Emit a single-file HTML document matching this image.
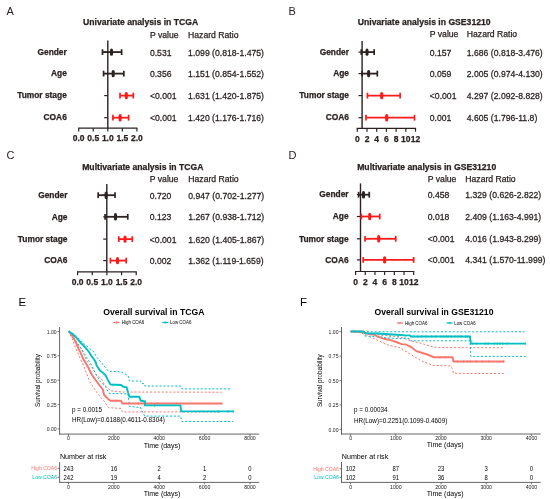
<!DOCTYPE html>
<html><head><meta charset="utf-8"><style>
html,body{margin:0;padding:0;background:#fff;}
svg{display:block;will-change:transform;}
text{font-family:"Liberation Sans",sans-serif;}
text.t{stroke:currentColor;}
</style></head><body>
<svg width="550" height="499" viewBox="0 0 550 499">
<rect width="550" height="499" fill="#fff"/>
<text x="6.60" y="14.50" font-size="11" font-weight="normal" text-anchor="start" fill="#2b2222" >A</text>
<text x="83.10" y="25.10" font-size="8.65" font-weight="bold" text-anchor="start" fill="#2b2222" stroke="#2b2222" stroke-width="0.25">Univariate analysis in TCGA</text>
<text x="149.90" y="37.60" font-size="8.65" font-weight="normal" text-anchor="start" fill="#2b2222" stroke="#2b2222" stroke-width="0.25">P value</text>
<text x="188.10" y="37.60" font-size="8.65" font-weight="normal" text-anchor="start" fill="#2b2222" stroke="#2b2222" stroke-width="0.25">Hazard Ratio</text>
<line x1="107.80" y1="40.50" x2="107.80" y2="128.20" stroke="#2b2222" stroke-width="1.4" />
<line x1="78.10" y1="128.20" x2="137.50" y2="128.20" stroke="#2b2222" stroke-width="1.2" />
<line x1="78.70" y1="128.20" x2="78.70" y2="131.60" stroke="#2b2222" stroke-width="1.2" />
<text x="78.70" y="141.40" font-size="8.5" font-weight="bold" text-anchor="middle" fill="#2b2222" stroke="#2b2222" stroke-width="0.25">0.0</text>
<line x1="93.25" y1="128.20" x2="93.25" y2="131.60" stroke="#2b2222" stroke-width="1.2" />
<text x="93.25" y="141.40" font-size="8.5" font-weight="bold" text-anchor="middle" fill="#2b2222" stroke="#2b2222" stroke-width="0.25">0.5</text>
<line x1="107.80" y1="128.20" x2="107.80" y2="131.60" stroke="#2b2222" stroke-width="1.2" />
<text x="107.80" y="141.40" font-size="8.5" font-weight="bold" text-anchor="middle" fill="#2b2222" stroke="#2b2222" stroke-width="0.25">1.0</text>
<line x1="122.35" y1="128.20" x2="122.35" y2="131.60" stroke="#2b2222" stroke-width="1.2" />
<text x="122.35" y="141.40" font-size="8.5" font-weight="bold" text-anchor="middle" fill="#2b2222" stroke="#2b2222" stroke-width="0.25">1.5</text>
<line x1="136.90" y1="128.20" x2="136.90" y2="131.60" stroke="#2b2222" stroke-width="1.2" />
<text x="136.90" y="141.40" font-size="8.5" font-weight="bold" text-anchor="middle" fill="#2b2222" stroke="#2b2222" stroke-width="0.25">2.0</text>
<line x1="104.20" y1="52.10" x2="107.80" y2="52.10" stroke="#2b2222" stroke-width="1.2" />
<line x1="102.50" y1="52.10" x2="121.62" y2="52.10" stroke="#2b2222" stroke-width="1.8" />
<line x1="102.50" y1="49.20" x2="102.50" y2="55.00" stroke="#2b2222" stroke-width="1.7" />
<line x1="121.62" y1="49.20" x2="121.62" y2="55.00" stroke="#2b2222" stroke-width="1.7" />
<rect x="110.00" y="48.40" width="3.0" height="7.4" rx="1.5" fill="#2b2222"/>
<text x="66.80" y="54.80" font-size="8.4" font-weight="bold" text-anchor="end" fill="#2b2222" stroke="#2b2222" stroke-width="0.25">Gender</text>
<text x="0" y="0" transform="translate(149.90,55.60) scale(1.0,1.05)" font-size="8.65" font-weight="normal" text-anchor="start" fill="#2b2222" stroke="#2b2222" stroke-width="0.25">0.531</text>
<text x="0" y="0" transform="translate(188.10,55.60) scale(1.0,1.05)" font-size="8.65" font-weight="normal" text-anchor="start" fill="#2b2222" stroke="#2b2222" stroke-width="0.25">1.099 (0.818-1.475)</text>
<line x1="104.20" y1="73.60" x2="107.80" y2="73.60" stroke="#2b2222" stroke-width="1.2" />
<line x1="103.55" y1="73.60" x2="123.86" y2="73.60" stroke="#2b2222" stroke-width="1.8" />
<line x1="103.55" y1="70.70" x2="103.55" y2="76.50" stroke="#2b2222" stroke-width="1.7" />
<line x1="123.86" y1="70.70" x2="123.86" y2="76.50" stroke="#2b2222" stroke-width="1.7" />
<rect x="111.70" y="69.90" width="3.0" height="7.4" rx="1.5" fill="#2b2222"/>
<text x="66.80" y="76.30" font-size="8.4" font-weight="bold" text-anchor="end" fill="#2b2222" stroke="#2b2222" stroke-width="0.25">Age</text>
<text x="0" y="0" transform="translate(149.90,77.10) scale(1.0,1.05)" font-size="8.65" font-weight="normal" text-anchor="start" fill="#2b2222" stroke="#2b2222" stroke-width="0.25">0.356</text>
<text x="0" y="0" transform="translate(188.10,77.10) scale(1.0,1.05)" font-size="8.65" font-weight="normal" text-anchor="start" fill="#2b2222" stroke="#2b2222" stroke-width="0.25">1.151 (0.854-1.552)</text>
<line x1="104.20" y1="95.60" x2="107.80" y2="95.60" stroke="#2b2222" stroke-width="1.2" />
<line x1="120.02" y1="95.60" x2="133.26" y2="95.60" stroke="#ff1a1a" stroke-width="1.8" />
<line x1="120.02" y1="92.70" x2="120.02" y2="98.50" stroke="#ff1a1a" stroke-width="1.7" />
<line x1="133.26" y1="92.70" x2="133.26" y2="98.50" stroke="#ff1a1a" stroke-width="1.7" />
<rect x="124.80" y="91.90" width="3.0" height="7.4" rx="1.5" fill="#ff1a1a"/>
<text x="66.80" y="98.30" font-size="8.4" font-weight="bold" text-anchor="end" fill="#2b2222" stroke="#2b2222" stroke-width="0.25">Tumor stage</text>
<text x="0" y="0" transform="translate(149.90,99.10) scale(1.0,1.05)" font-size="8.65" font-weight="normal" text-anchor="start" fill="#2b2222" stroke="#2b2222" stroke-width="0.25">&lt;0.001</text>
<text x="0" y="0" transform="translate(188.10,99.10) scale(1.0,1.05)" font-size="8.65" font-weight="normal" text-anchor="start" fill="#2b2222" stroke="#2b2222" stroke-width="0.25">1.631 (1.420-1.875)</text>
<line x1="104.20" y1="117.70" x2="107.80" y2="117.70" stroke="#2b2222" stroke-width="1.2" />
<line x1="112.92" y1="117.70" x2="128.64" y2="117.70" stroke="#ff1a1a" stroke-width="1.8" />
<line x1="112.92" y1="114.80" x2="112.92" y2="120.60" stroke="#ff1a1a" stroke-width="1.7" />
<line x1="128.64" y1="114.80" x2="128.64" y2="120.60" stroke="#ff1a1a" stroke-width="1.7" />
<rect x="118.60" y="114.00" width="3.0" height="7.4" rx="1.5" fill="#ff1a1a"/>
<text x="66.80" y="120.40" font-size="8.4" font-weight="bold" text-anchor="end" fill="#2b2222" stroke="#2b2222" stroke-width="0.25">COA6</text>
<text x="0" y="0" transform="translate(149.90,121.20) scale(1.0,1.05)" font-size="8.65" font-weight="normal" text-anchor="start" fill="#2b2222" stroke="#2b2222" stroke-width="0.25">&lt;0.001</text>
<text x="0" y="0" transform="translate(188.10,121.20) scale(1.0,1.05)" font-size="8.65" font-weight="normal" text-anchor="start" fill="#2b2222" stroke="#2b2222" stroke-width="0.25">1.420 (1.176-1.716)</text>
<text x="288.40" y="14.50" font-size="11" font-weight="normal" text-anchor="start" fill="#2b2222" >B</text>
<text x="357.80" y="24.90" font-size="8.65" font-weight="bold" text-anchor="start" fill="#2b2222" stroke="#2b2222" stroke-width="0.25">Univariate analysis in GSE31210</text>
<text x="429.80" y="37.40" font-size="8.65" font-weight="normal" text-anchor="start" fill="#2b2222" stroke="#2b2222" stroke-width="0.25">P value</text>
<text x="466.80" y="37.40" font-size="8.65" font-weight="normal" text-anchor="start" fill="#2b2222" stroke="#2b2222" stroke-width="0.25">Hazard Ratio</text>
<line x1="362.10" y1="40.90" x2="362.10" y2="128.30" stroke="#2b2222" stroke-width="1.4" />
<line x1="356.70" y1="128.30" x2="416.10" y2="128.30" stroke="#2b2222" stroke-width="1.2" />
<line x1="357.30" y1="128.30" x2="357.30" y2="131.70" stroke="#2b2222" stroke-width="1.2" />
<text x="357.30" y="141.50" font-size="8.5" font-weight="bold" text-anchor="middle" fill="#2b2222" stroke="#2b2222" stroke-width="0.25">0</text>
<line x1="367.00" y1="128.30" x2="367.00" y2="131.70" stroke="#2b2222" stroke-width="1.2" />
<text x="367.00" y="141.50" font-size="8.5" font-weight="bold" text-anchor="middle" fill="#2b2222" stroke="#2b2222" stroke-width="0.25">2</text>
<line x1="376.70" y1="128.30" x2="376.70" y2="131.70" stroke="#2b2222" stroke-width="1.2" />
<text x="376.70" y="141.50" font-size="8.5" font-weight="bold" text-anchor="middle" fill="#2b2222" stroke="#2b2222" stroke-width="0.25">4</text>
<line x1="386.40" y1="128.30" x2="386.40" y2="131.70" stroke="#2b2222" stroke-width="1.2" />
<text x="386.40" y="141.50" font-size="8.5" font-weight="bold" text-anchor="middle" fill="#2b2222" stroke="#2b2222" stroke-width="0.25">6</text>
<line x1="396.10" y1="128.30" x2="396.10" y2="131.70" stroke="#2b2222" stroke-width="1.2" />
<text x="396.10" y="141.50" font-size="8.5" font-weight="bold" text-anchor="middle" fill="#2b2222" stroke="#2b2222" stroke-width="0.25">8</text>
<line x1="405.80" y1="128.30" x2="405.80" y2="131.70" stroke="#2b2222" stroke-width="1.2" />
<text x="405.80" y="141.50" font-size="8.5" font-weight="bold" text-anchor="middle" fill="#2b2222" stroke="#2b2222" stroke-width="0.25">10</text>
<line x1="415.50" y1="128.30" x2="415.50" y2="131.70" stroke="#2b2222" stroke-width="1.2" />
<text x="415.50" y="141.50" font-size="8.5" font-weight="bold" text-anchor="middle" fill="#2b2222" stroke="#2b2222" stroke-width="0.25">12</text>
<line x1="358.50" y1="52.10" x2="362.10" y2="52.10" stroke="#2b2222" stroke-width="1.2" />
<line x1="361.27" y1="52.10" x2="374.16" y2="52.10" stroke="#2b2222" stroke-width="1.8" />
<line x1="361.27" y1="49.20" x2="361.27" y2="55.00" stroke="#2b2222" stroke-width="1.7" />
<line x1="374.16" y1="49.20" x2="374.16" y2="55.00" stroke="#2b2222" stroke-width="1.7" />
<rect x="365.50" y="48.40" width="3.0" height="7.4" rx="1.5" fill="#2b2222"/>
<text x="349.00" y="54.80" font-size="8.4" font-weight="bold" text-anchor="end" fill="#2b2222" stroke="#2b2222" stroke-width="0.25">Gender</text>
<text x="0" y="0" transform="translate(429.80,55.60) scale(1.0,1.05)" font-size="8.65" font-weight="normal" text-anchor="start" fill="#2b2222" stroke="#2b2222" stroke-width="0.25">0.157</text>
<text x="0" y="0" transform="translate(466.80,55.60) scale(1.0,1.05)" font-size="8.65" font-weight="normal" text-anchor="start" fill="#2b2222" stroke="#2b2222" stroke-width="0.25">1.686 (0.818-3.476)</text>
<line x1="358.50" y1="73.60" x2="362.10" y2="73.60" stroke="#2b2222" stroke-width="1.2" />
<line x1="362.02" y1="73.60" x2="377.33" y2="73.60" stroke="#2b2222" stroke-width="1.8" />
<line x1="362.02" y1="70.70" x2="362.02" y2="76.50" stroke="#2b2222" stroke-width="1.7" />
<line x1="377.33" y1="70.70" x2="377.33" y2="76.50" stroke="#2b2222" stroke-width="1.7" />
<rect x="367.10" y="69.90" width="3.0" height="7.4" rx="1.5" fill="#2b2222"/>
<text x="349.00" y="76.30" font-size="8.4" font-weight="bold" text-anchor="end" fill="#2b2222" stroke="#2b2222" stroke-width="0.25">Age</text>
<text x="0" y="0" transform="translate(429.80,77.10) scale(1.0,1.05)" font-size="8.65" font-weight="normal" text-anchor="start" fill="#2b2222" stroke="#2b2222" stroke-width="0.25">0.059</text>
<text x="0" y="0" transform="translate(466.80,77.10) scale(1.0,1.05)" font-size="8.65" font-weight="normal" text-anchor="start" fill="#2b2222" stroke="#2b2222" stroke-width="0.25">2.005 (0.974-4.130)</text>
<line x1="358.50" y1="95.60" x2="362.10" y2="95.60" stroke="#2b2222" stroke-width="1.2" />
<line x1="367.45" y1="95.60" x2="400.12" y2="95.60" stroke="#ff1a1a" stroke-width="1.8" />
<line x1="367.45" y1="92.70" x2="367.45" y2="98.50" stroke="#ff1a1a" stroke-width="1.7" />
<line x1="400.12" y1="92.70" x2="400.12" y2="98.50" stroke="#ff1a1a" stroke-width="1.7" />
<rect x="380.20" y="91.90" width="3.0" height="7.4" rx="1.5" fill="#ff1a1a"/>
<text x="349.00" y="98.30" font-size="8.4" font-weight="bold" text-anchor="end" fill="#2b2222" stroke="#2b2222" stroke-width="0.25">Tumor stage</text>
<text x="0" y="0" transform="translate(429.80,99.10) scale(1.0,1.05)" font-size="8.65" font-weight="normal" text-anchor="start" fill="#2b2222" stroke="#2b2222" stroke-width="0.25">&lt;0.001</text>
<text x="0" y="0" transform="translate(466.80,99.10) scale(1.0,1.05)" font-size="8.65" font-weight="normal" text-anchor="start" fill="#2b2222" stroke="#2b2222" stroke-width="0.25">4.297 (2.092-8.828)</text>
<line x1="358.50" y1="117.70" x2="362.10" y2="117.70" stroke="#2b2222" stroke-width="1.2" />
<line x1="366.01" y1="117.70" x2="414.53" y2="117.70" stroke="#ff1a1a" stroke-width="1.8" />
<line x1="366.01" y1="114.80" x2="366.01" y2="120.60" stroke="#ff1a1a" stroke-width="1.7" />
<line x1="414.53" y1="114.80" x2="414.53" y2="120.60" stroke="#ff1a1a" stroke-width="1.7" />
<rect x="385.20" y="114.00" width="3.0" height="7.4" rx="1.5" fill="#ff1a1a"/>
<text x="349.00" y="120.40" font-size="8.4" font-weight="bold" text-anchor="end" fill="#2b2222" stroke="#2b2222" stroke-width="0.25">COA6</text>
<text x="0" y="0" transform="translate(429.80,121.20) scale(1.0,1.05)" font-size="8.65" font-weight="normal" text-anchor="start" fill="#2b2222" stroke="#2b2222" stroke-width="0.25">0.001</text>
<text x="0" y="0" transform="translate(466.80,121.20) scale(1.0,1.05)" font-size="8.65" font-weight="normal" text-anchor="start" fill="#2b2222" stroke="#2b2222" stroke-width="0.25">4.605 (1.796-11.8)</text>
<text x="6.60" y="159.10" font-size="11" font-weight="normal" text-anchor="start" fill="#2b2222" >C</text>
<text x="82.20" y="169.80" font-size="8.65" font-weight="bold" text-anchor="start" fill="#2b2222" stroke="#2b2222" stroke-width="0.25">Multivariate analysis in TCGA</text>
<text x="149.80" y="182.00" font-size="8.65" font-weight="normal" text-anchor="start" fill="#2b2222" stroke="#2b2222" stroke-width="0.25">P value</text>
<text x="188.30" y="182.00" font-size="8.65" font-weight="normal" text-anchor="start" fill="#2b2222" stroke="#2b2222" stroke-width="0.25">Hazard Ratio</text>
<line x1="106.80" y1="184.10" x2="106.80" y2="271.80" stroke="#2b2222" stroke-width="1.4" />
<line x1="77.00" y1="271.80" x2="136.80" y2="271.80" stroke="#2b2222" stroke-width="1.2" />
<line x1="77.60" y1="271.80" x2="77.60" y2="275.20" stroke="#2b2222" stroke-width="1.2" />
<text x="77.60" y="285.00" font-size="8.5" font-weight="bold" text-anchor="middle" fill="#2b2222" stroke="#2b2222" stroke-width="0.25">0.0</text>
<line x1="92.25" y1="271.80" x2="92.25" y2="275.20" stroke="#2b2222" stroke-width="1.2" />
<text x="92.25" y="285.00" font-size="8.5" font-weight="bold" text-anchor="middle" fill="#2b2222" stroke="#2b2222" stroke-width="0.25">0.5</text>
<line x1="106.90" y1="271.80" x2="106.90" y2="275.20" stroke="#2b2222" stroke-width="1.2" />
<text x="106.90" y="285.00" font-size="8.5" font-weight="bold" text-anchor="middle" fill="#2b2222" stroke="#2b2222" stroke-width="0.25">1.0</text>
<line x1="121.55" y1="271.80" x2="121.55" y2="275.20" stroke="#2b2222" stroke-width="1.2" />
<text x="121.55" y="285.00" font-size="8.5" font-weight="bold" text-anchor="middle" fill="#2b2222" stroke="#2b2222" stroke-width="0.25">1.5</text>
<line x1="136.20" y1="271.80" x2="136.20" y2="275.20" stroke="#2b2222" stroke-width="1.2" />
<text x="136.20" y="285.00" font-size="8.5" font-weight="bold" text-anchor="middle" fill="#2b2222" stroke="#2b2222" stroke-width="0.25">2.0</text>
<line x1="103.20" y1="195.20" x2="106.80" y2="195.20" stroke="#2b2222" stroke-width="1.2" />
<line x1="98.17" y1="195.20" x2="115.02" y2="195.20" stroke="#2b2222" stroke-width="1.8" />
<line x1="98.17" y1="192.30" x2="98.17" y2="198.10" stroke="#2b2222" stroke-width="1.7" />
<line x1="115.02" y1="192.30" x2="115.02" y2="198.10" stroke="#2b2222" stroke-width="1.7" />
<rect x="104.60" y="191.50" width="3.0" height="7.4" rx="1.5" fill="#2b2222"/>
<text x="67.50" y="197.90" font-size="8.4" font-weight="bold" text-anchor="end" fill="#2b2222" stroke="#2b2222" stroke-width="0.25">Gender</text>
<text x="0" y="0" transform="translate(149.80,198.70) scale(1.0,1.05)" font-size="8.65" font-weight="normal" text-anchor="start" fill="#2b2222" stroke="#2b2222" stroke-width="0.25">0.720</text>
<text x="0" y="0" transform="translate(188.30,198.70) scale(1.0,1.05)" font-size="8.65" font-weight="normal" text-anchor="start" fill="#2b2222" stroke="#2b2222" stroke-width="0.25">0.947 (0.702-1.277)</text>
<line x1="103.20" y1="216.80" x2="106.80" y2="216.80" stroke="#2b2222" stroke-width="1.2" />
<line x1="105.08" y1="216.80" x2="127.76" y2="216.80" stroke="#2b2222" stroke-width="1.8" />
<line x1="105.08" y1="213.90" x2="105.08" y2="219.70" stroke="#2b2222" stroke-width="1.7" />
<line x1="127.76" y1="213.90" x2="127.76" y2="219.70" stroke="#2b2222" stroke-width="1.7" />
<rect x="114.00" y="213.10" width="3.0" height="7.4" rx="1.5" fill="#2b2222"/>
<text x="67.50" y="219.50" font-size="8.4" font-weight="bold" text-anchor="end" fill="#2b2222" stroke="#2b2222" stroke-width="0.25">Age</text>
<text x="0" y="0" transform="translate(149.80,220.30) scale(1.0,1.05)" font-size="8.65" font-weight="normal" text-anchor="start" fill="#2b2222" stroke="#2b2222" stroke-width="0.25">0.123</text>
<text x="0" y="0" transform="translate(188.30,220.30) scale(1.0,1.05)" font-size="8.65" font-weight="normal" text-anchor="start" fill="#2b2222" stroke="#2b2222" stroke-width="0.25">1.267 (0.938-1.712)</text>
<line x1="103.20" y1="239.10" x2="106.80" y2="239.10" stroke="#2b2222" stroke-width="1.2" />
<line x1="118.77" y1="239.10" x2="132.30" y2="239.10" stroke="#ff1a1a" stroke-width="1.8" />
<line x1="118.77" y1="236.20" x2="118.77" y2="242.00" stroke="#ff1a1a" stroke-width="1.7" />
<line x1="132.30" y1="236.20" x2="132.30" y2="242.00" stroke="#ff1a1a" stroke-width="1.7" />
<rect x="123.50" y="235.40" width="3.0" height="7.4" rx="1.5" fill="#ff1a1a"/>
<text x="67.50" y="241.80" font-size="8.4" font-weight="bold" text-anchor="end" fill="#2b2222" stroke="#2b2222" stroke-width="0.25">Tumor stage</text>
<text x="0" y="0" transform="translate(149.80,242.60) scale(1.0,1.05)" font-size="8.65" font-weight="normal" text-anchor="start" fill="#2b2222" stroke="#2b2222" stroke-width="0.25">&lt;0.001</text>
<text x="0" y="0" transform="translate(188.30,242.60) scale(1.0,1.05)" font-size="8.65" font-weight="normal" text-anchor="start" fill="#2b2222" stroke="#2b2222" stroke-width="0.25">1.620 (1.405-1.867)</text>
<line x1="103.20" y1="260.60" x2="106.80" y2="260.60" stroke="#2b2222" stroke-width="1.2" />
<line x1="110.39" y1="260.60" x2="126.21" y2="260.60" stroke="#ff1a1a" stroke-width="1.8" />
<line x1="110.39" y1="257.70" x2="110.39" y2="263.50" stroke="#ff1a1a" stroke-width="1.7" />
<line x1="126.21" y1="257.70" x2="126.21" y2="263.50" stroke="#ff1a1a" stroke-width="1.7" />
<rect x="116.00" y="256.90" width="3.0" height="7.4" rx="1.5" fill="#ff1a1a"/>
<text x="67.50" y="263.30" font-size="8.4" font-weight="bold" text-anchor="end" fill="#2b2222" stroke="#2b2222" stroke-width="0.25">COA6</text>
<text x="0" y="0" transform="translate(149.80,264.10) scale(1.0,1.05)" font-size="8.65" font-weight="normal" text-anchor="start" fill="#2b2222" stroke="#2b2222" stroke-width="0.25">0.002</text>
<text x="0" y="0" transform="translate(188.30,264.10) scale(1.0,1.05)" font-size="8.65" font-weight="normal" text-anchor="start" fill="#2b2222" stroke="#2b2222" stroke-width="0.25">1.362 (1.119-1.659)</text>
<text x="288.40" y="159.10" font-size="11" font-weight="normal" text-anchor="start" fill="#2b2222" >D</text>
<text x="357.20" y="169.60" font-size="8.65" font-weight="bold" text-anchor="start" fill="#2b2222" stroke="#2b2222" stroke-width="0.25">Multivariate analysis in GSE31210</text>
<text x="427.80" y="182.00" font-size="8.65" font-weight="normal" text-anchor="start" fill="#2b2222" stroke="#2b2222" stroke-width="0.25">P value</text>
<text x="465.30" y="182.00" font-size="8.65" font-weight="normal" text-anchor="start" fill="#2b2222" stroke="#2b2222" stroke-width="0.25">Hazard Ratio</text>
<line x1="360.50" y1="183.40" x2="360.50" y2="271.50" stroke="#2b2222" stroke-width="1.4" />
<line x1="355.00" y1="271.50" x2="414.28" y2="271.50" stroke="#2b2222" stroke-width="1.2" />
<line x1="355.60" y1="271.50" x2="355.60" y2="274.90" stroke="#2b2222" stroke-width="1.2" />
<text x="355.60" y="284.70" font-size="8.5" font-weight="bold" text-anchor="middle" fill="#2b2222" stroke="#2b2222" stroke-width="0.25">0</text>
<line x1="365.28" y1="271.50" x2="365.28" y2="274.90" stroke="#2b2222" stroke-width="1.2" />
<text x="365.28" y="284.70" font-size="8.5" font-weight="bold" text-anchor="middle" fill="#2b2222" stroke="#2b2222" stroke-width="0.25">2</text>
<line x1="374.96" y1="271.50" x2="374.96" y2="274.90" stroke="#2b2222" stroke-width="1.2" />
<text x="374.96" y="284.70" font-size="8.5" font-weight="bold" text-anchor="middle" fill="#2b2222" stroke="#2b2222" stroke-width="0.25">4</text>
<line x1="384.64" y1="271.50" x2="384.64" y2="274.90" stroke="#2b2222" stroke-width="1.2" />
<text x="384.64" y="284.70" font-size="8.5" font-weight="bold" text-anchor="middle" fill="#2b2222" stroke="#2b2222" stroke-width="0.25">6</text>
<line x1="394.32" y1="271.50" x2="394.32" y2="274.90" stroke="#2b2222" stroke-width="1.2" />
<text x="394.32" y="284.70" font-size="8.5" font-weight="bold" text-anchor="middle" fill="#2b2222" stroke="#2b2222" stroke-width="0.25">8</text>
<line x1="404.00" y1="271.50" x2="404.00" y2="274.90" stroke="#2b2222" stroke-width="1.2" />
<text x="404.00" y="284.70" font-size="8.5" font-weight="bold" text-anchor="middle" fill="#2b2222" stroke="#2b2222" stroke-width="0.25">10</text>
<line x1="413.68" y1="271.50" x2="413.68" y2="274.90" stroke="#2b2222" stroke-width="1.2" />
<text x="413.68" y="284.70" font-size="8.5" font-weight="bold" text-anchor="middle" fill="#2b2222" stroke="#2b2222" stroke-width="0.25">12</text>
<line x1="356.90" y1="194.70" x2="360.50" y2="194.70" stroke="#2b2222" stroke-width="1.2" />
<line x1="358.63" y1="194.70" x2="369.26" y2="194.70" stroke="#2b2222" stroke-width="1.8" />
<line x1="358.63" y1="191.80" x2="358.63" y2="197.60" stroke="#2b2222" stroke-width="1.7" />
<line x1="369.26" y1="191.80" x2="369.26" y2="197.60" stroke="#2b2222" stroke-width="1.7" />
<rect x="362.00" y="191.00" width="3.0" height="7.4" rx="1.5" fill="#2b2222"/>
<text x="348.60" y="197.40" font-size="8.4" font-weight="bold" text-anchor="end" fill="#2b2222" stroke="#2b2222" stroke-width="0.25">Gender</text>
<text x="0" y="0" transform="translate(427.80,198.20) scale(1.0,1.05)" font-size="8.65" font-weight="normal" text-anchor="start" fill="#2b2222" stroke="#2b2222" stroke-width="0.25">0.458</text>
<text x="0" y="0" transform="translate(465.30,198.20) scale(1.0,1.05)" font-size="8.65" font-weight="normal" text-anchor="start" fill="#2b2222" stroke="#2b2222" stroke-width="0.25">1.329 (0.626-2.822)</text>
<line x1="356.90" y1="216.50" x2="360.50" y2="216.50" stroke="#2b2222" stroke-width="1.2" />
<line x1="361.23" y1="216.50" x2="379.76" y2="216.50" stroke="#ff1a1a" stroke-width="1.8" />
<line x1="361.23" y1="213.60" x2="361.23" y2="219.40" stroke="#ff1a1a" stroke-width="1.7" />
<line x1="379.76" y1="213.60" x2="379.76" y2="219.40" stroke="#ff1a1a" stroke-width="1.7" />
<rect x="368.20" y="212.80" width="3.0" height="7.4" rx="1.5" fill="#ff1a1a"/>
<text x="348.60" y="219.20" font-size="8.4" font-weight="bold" text-anchor="end" fill="#2b2222" stroke="#2b2222" stroke-width="0.25">Age</text>
<text x="0" y="0" transform="translate(427.80,220.00) scale(1.0,1.05)" font-size="8.65" font-weight="normal" text-anchor="start" fill="#2b2222" stroke="#2b2222" stroke-width="0.25">0.018</text>
<text x="0" y="0" transform="translate(465.30,220.00) scale(1.0,1.05)" font-size="8.65" font-weight="normal" text-anchor="start" fill="#2b2222" stroke="#2b2222" stroke-width="0.25">2.409 (1.163-4.991)</text>
<line x1="356.90" y1="238.80" x2="360.50" y2="238.80" stroke="#2b2222" stroke-width="1.2" />
<line x1="365.00" y1="238.80" x2="395.77" y2="238.80" stroke="#ff1a1a" stroke-width="1.8" />
<line x1="365.00" y1="235.90" x2="365.00" y2="241.70" stroke="#ff1a1a" stroke-width="1.7" />
<line x1="395.77" y1="235.90" x2="395.77" y2="241.70" stroke="#ff1a1a" stroke-width="1.7" />
<rect x="377.20" y="235.10" width="3.0" height="7.4" rx="1.5" fill="#ff1a1a"/>
<text x="348.60" y="241.50" font-size="8.4" font-weight="bold" text-anchor="end" fill="#2b2222" stroke="#2b2222" stroke-width="0.25">Tumor stage</text>
<text x="0" y="0" transform="translate(427.80,242.30) scale(1.0,1.05)" font-size="8.65" font-weight="normal" text-anchor="start" fill="#2b2222" stroke="#2b2222" stroke-width="0.25">&lt;0.001</text>
<text x="0" y="0" transform="translate(465.30,242.30) scale(1.0,1.05)" font-size="8.65" font-weight="normal" text-anchor="start" fill="#2b2222" stroke="#2b2222" stroke-width="0.25">4.016 (1.943-8.299)</text>
<line x1="356.90" y1="259.90" x2="360.50" y2="259.90" stroke="#2b2222" stroke-width="1.2" />
<line x1="363.20" y1="259.90" x2="413.68" y2="259.90" stroke="#ff1a1a" stroke-width="1.8" />
<line x1="363.20" y1="257.00" x2="363.20" y2="262.80" stroke="#ff1a1a" stroke-width="1.7" />
<line x1="413.68" y1="257.00" x2="413.68" y2="262.80" stroke="#ff1a1a" stroke-width="1.7" />
<rect x="383.10" y="256.20" width="3.0" height="7.4" rx="1.5" fill="#ff1a1a"/>
<text x="348.60" y="262.60" font-size="8.4" font-weight="bold" text-anchor="end" fill="#2b2222" stroke="#2b2222" stroke-width="0.25">COA6</text>
<text x="0" y="0" transform="translate(427.80,263.40) scale(1.0,1.05)" font-size="8.65" font-weight="normal" text-anchor="start" fill="#2b2222" stroke="#2b2222" stroke-width="0.25">&lt;0.001</text>
<text x="0" y="0" transform="translate(465.30,263.40) scale(1.0,1.05)" font-size="8.65" font-weight="normal" text-anchor="start" fill="#2b2222" stroke="#2b2222" stroke-width="0.25">4.341 (1.570-11.999)</text>
<text x="18.40" y="305.80" font-size="11.5" font-weight="normal" text-anchor="start" fill="#000" >E</text>
<text x="153.80" y="314.90" font-size="8.65" font-weight="bold" text-anchor="middle" fill="#000" >Overall survival in TCGA</text>
<line x1="113.40" y1="322.50" x2="119.60" y2="322.50" stroke="#F8766D" stroke-width="1.3" />
<line x1="116.50" y1="321.30" x2="116.50" y2="323.70" stroke="#F8766D" stroke-width="0.8" />
<text x="121.80" y="324.20" font-size="4.45" font-weight="normal" text-anchor="start" fill="#000" >High COA6</text>
<line x1="162.30" y1="322.50" x2="168.20" y2="322.50" stroke="#00BFC4" stroke-width="1.3" />
<line x1="165.25" y1="321.30" x2="165.25" y2="323.70" stroke="#00BFC4" stroke-width="0.8" />
<text x="170.00" y="324.20" font-size="4.45" font-weight="normal" text-anchor="start" fill="#000" >Low COA6</text>
<line x1="59.60" y1="327.00" x2="59.60" y2="434.70" stroke="#555555" stroke-width="0.9" />
<line x1="59.15" y1="434.10" x2="259.20" y2="434.10" stroke="#555555" stroke-width="0.9" />
<line x1="57.60" y1="428.90" x2="59.60" y2="428.90" stroke="#555555" stroke-width="0.8" />
<text x="0" y="0" transform="translate(56.60,431.20) scale(1.0,1.15)" font-size="5.1" font-weight="normal" text-anchor="end" fill="#222" >0.00</text>
<line x1="57.60" y1="404.55" x2="59.60" y2="404.55" stroke="#555555" stroke-width="0.8" />
<text x="0" y="0" transform="translate(56.60,406.85) scale(1.0,1.15)" font-size="5.1" font-weight="normal" text-anchor="end" fill="#222" >0.25</text>
<line x1="57.60" y1="380.20" x2="59.60" y2="380.20" stroke="#555555" stroke-width="0.8" />
<text x="0" y="0" transform="translate(56.60,382.50) scale(1.0,1.15)" font-size="5.1" font-weight="normal" text-anchor="end" fill="#222" >0.50</text>
<line x1="57.60" y1="355.85" x2="59.60" y2="355.85" stroke="#555555" stroke-width="0.8" />
<text x="0" y="0" transform="translate(56.60,358.15) scale(1.0,1.15)" font-size="5.1" font-weight="normal" text-anchor="end" fill="#222" >0.75</text>
<line x1="57.60" y1="331.50" x2="59.60" y2="331.50" stroke="#555555" stroke-width="0.8" />
<text x="0" y="0" transform="translate(56.60,333.80) scale(1.0,1.15)" font-size="5.1" font-weight="normal" text-anchor="end" fill="#222" >1.00</text>
<line x1="68.50" y1="434.10" x2="68.50" y2="436.10" stroke="#555555" stroke-width="0.8" />
<text x="68.50" y="440.30" font-size="5.2" font-weight="normal" text-anchor="middle" fill="#222" >0</text>
<line x1="113.88" y1="434.10" x2="113.88" y2="436.10" stroke="#555555" stroke-width="0.8" />
<text x="113.88" y="440.30" font-size="5.2" font-weight="normal" text-anchor="middle" fill="#222" >2000</text>
<line x1="159.25" y1="434.10" x2="159.25" y2="436.10" stroke="#555555" stroke-width="0.8" />
<text x="159.25" y="440.30" font-size="5.2" font-weight="normal" text-anchor="middle" fill="#222" >4000</text>
<line x1="204.62" y1="434.10" x2="204.62" y2="436.10" stroke="#555555" stroke-width="0.8" />
<text x="204.62" y="440.30" font-size="5.2" font-weight="normal" text-anchor="middle" fill="#222" >6000</text>
<line x1="250.00" y1="434.10" x2="250.00" y2="436.10" stroke="#555555" stroke-width="0.8" />
<text x="250.00" y="440.30" font-size="5.2" font-weight="normal" text-anchor="middle" fill="#222" >8000</text>
<text x="162.00" y="447.50" font-size="7.0" font-weight="normal" text-anchor="middle" fill="#000" >Time (days)</text>
<text x="0" y="0" font-size="6.3" text-anchor="middle" fill="#000" transform="translate(40.20,380.60) rotate(-90)">Survival probability</text>
<polyline points="68.60,331.20 72.20,338.40 74.60,345.60 77.00,351.20 80.20,358.50 82.60,363.30 86.00,372.00 89.60,381.30 96.80,392.50 104.50,401.80 108.40,407.70 121.00,408.40 122.40,411.90 222.00,412.00" fill="none" stroke="#F8766D" stroke-width="1.0" stroke-linejoin="miter" stroke-dasharray="2,1.9"/>
<polyline points="68.60,331.20 77.00,344.00 81.00,348.80 84.20,354.50 87.40,361.70 90.80,365.60 96.80,375.20 101.40,378.60 104.50,384.90 108.40,388.80 111.20,390.80 122.00,392.00 221.60,392.20" fill="none" stroke="#F8766D" stroke-width="1.0" stroke-linejoin="miter" stroke-dasharray="2,1.9"/>
<polyline points="68.60,331.20 74.60,334.40 79.40,339.20 84.20,344.00 89.00,348.00 93.90,352.00 97.10,357.70 101.90,363.30 108.40,371.20 121.00,371.90 128.00,375.40 129.50,381.00 140.50,381.00 141.50,383.60 144.20,383.60 144.90,386.00 180.50,386.00 181.90,388.90 232.00,388.90" fill="none" stroke="#00BFC4" stroke-width="1.0" stroke-linejoin="miter" stroke-dasharray="2,1.9"/>
<polyline points="68.60,331.20 75.40,340.00 81.00,348.00 85.00,354.50 88.20,360.00 91.50,364.90 95.60,374.00 100.40,381.30 105.60,386.70 108.90,393.30 128.00,393.90 129.50,406.50 140.50,407.50 142.60,411.90 144.70,416.10 180.50,416.10 181.90,421.50 233.00,421.50" fill="none" stroke="#00BFC4" stroke-width="1.0" stroke-linejoin="miter" stroke-dasharray="2,1.9"/>
<polyline points="68.60,331.20 71.40,334.40 73.80,338.40 76.20,343.20 78.60,348.80 81.00,353.70 83.40,359.30 85.80,363.30 88.20,367.30 92.00,375.00 95.60,380.00 100.00,386.00 102.80,389.50 104.20,395.00 108.40,399.30 110.50,400.70 121.00,400.70 122.40,403.50 222.00,403.50" fill="none" stroke="#F8766D" stroke-width="1.9" stroke-linejoin="miter" />
<polyline points="68.60,331.20 73.00,334.40 77.00,338.40 81.00,343.20 85.00,347.20 89.00,352.00 91.50,356.00 93.90,359.30 95.50,361.70 96.70,365.70 100.00,370.50 102.80,372.60 105.60,375.40 107.70,379.60 110.50,384.50 121.00,385.00 123.10,386.60 126.60,387.30 128.00,392.30 129.50,396.70 139.30,396.70 140.70,400.70 144.90,401.40 144.90,405.40 180.50,405.40 181.20,411.40 233.80,411.40" fill="none" stroke="#00BFC4" stroke-width="1.9" stroke-linejoin="miter" />
<line x1="222.00" y1="402.20" x2="222.00" y2="404.80" stroke="#F8766D" stroke-width="0.7" />
<line x1="218.00" y1="410.10" x2="218.00" y2="412.70" stroke="#00BFC4" stroke-width="0.7" />
<line x1="228.00" y1="410.10" x2="228.00" y2="412.70" stroke="#00BFC4" stroke-width="0.7" />
<line x1="233.50" y1="410.10" x2="233.50" y2="412.70" stroke="#00BFC4" stroke-width="0.7" />
<line x1="138.40" y1="402.20" x2="138.40" y2="404.80" stroke="#F8766D" stroke-width="0.7" />
<line x1="151.00" y1="402.20" x2="151.00" y2="404.80" stroke="#F8766D" stroke-width="0.7" />
<line x1="158.00" y1="402.20" x2="158.00" y2="404.80" stroke="#F8766D" stroke-width="0.7" />
<line x1="176.30" y1="402.20" x2="176.30" y2="404.80" stroke="#F8766D" stroke-width="0.7" />
<line x1="141.90" y1="399.40" x2="141.90" y2="402.00" stroke="#00BFC4" stroke-width="0.7" />
<line x1="154.50" y1="404.10" x2="154.50" y2="406.70" stroke="#00BFC4" stroke-width="0.7" />
<line x1="116.00" y1="399.40" x2="116.00" y2="402.00" stroke="#F8766D" stroke-width="0.7" />
<line x1="113.00" y1="383.70" x2="113.00" y2="386.30" stroke="#00BFC4" stroke-width="0.7" />
<text x="72.00" y="411.80" font-size="6.3" font-weight="normal" text-anchor="start" fill="#000" >p = 0.0015</text>
<text x="72.00" y="422.10" font-size="6.35" font-weight="normal" text-anchor="start" fill="#000" >HR(Low)=0.6188(0.4611-0.8304)</text>
<text x="59.90" y="459.20" font-size="7.15" font-weight="normal" text-anchor="start" fill="#000" >Number at risk</text>
<line x1="59.60" y1="462.00" x2="59.60" y2="482.40" stroke="#555555" stroke-width="0.9" />
<line x1="59.15" y1="482.40" x2="259.20" y2="482.40" stroke="#555555" stroke-width="0.9" />
<line x1="57.60" y1="468.30" x2="59.60" y2="468.30" stroke="#555555" stroke-width="0.8" />
<text x="57.00" y="470.10" font-size="5.1" font-weight="normal" text-anchor="end" fill="#F8766D" >High COA6</text>
<text x="0" y="0" transform="translate(68.50,470.50) scale(1.0,1.15)" font-size="5.9" font-weight="normal" text-anchor="middle" fill="#000" >243</text>
<text x="0" y="0" transform="translate(113.88,470.50) scale(1.0,1.15)" font-size="5.9" font-weight="normal" text-anchor="middle" fill="#000" >16</text>
<text x="0" y="0" transform="translate(159.25,470.50) scale(1.0,1.15)" font-size="5.9" font-weight="normal" text-anchor="middle" fill="#000" >2</text>
<text x="0" y="0" transform="translate(204.62,470.50) scale(1.0,1.15)" font-size="5.9" font-weight="normal" text-anchor="middle" fill="#000" >1</text>
<text x="0" y="0" transform="translate(250.00,470.50) scale(1.0,1.15)" font-size="5.9" font-weight="normal" text-anchor="middle" fill="#000" >0</text>
<line x1="57.60" y1="477.30" x2="59.60" y2="477.30" stroke="#555555" stroke-width="0.8" />
<text x="57.00" y="479.10" font-size="5.1" font-weight="normal" text-anchor="end" fill="#00BFC4" >Low COA6</text>
<text x="0" y="0" transform="translate(68.50,479.50) scale(1.0,1.15)" font-size="5.9" font-weight="normal" text-anchor="middle" fill="#000" >242</text>
<text x="0" y="0" transform="translate(113.88,479.50) scale(1.0,1.15)" font-size="5.9" font-weight="normal" text-anchor="middle" fill="#000" >19</text>
<text x="0" y="0" transform="translate(159.25,479.50) scale(1.0,1.15)" font-size="5.9" font-weight="normal" text-anchor="middle" fill="#000" >4</text>
<text x="0" y="0" transform="translate(204.62,479.50) scale(1.0,1.15)" font-size="5.9" font-weight="normal" text-anchor="middle" fill="#000" >2</text>
<text x="0" y="0" transform="translate(250.00,479.50) scale(1.0,1.15)" font-size="5.9" font-weight="normal" text-anchor="middle" fill="#000" >0</text>
<line x1="68.50" y1="482.40" x2="68.50" y2="484.40" stroke="#555555" stroke-width="0.8" />
<text x="68.50" y="488.60" font-size="5.2" font-weight="normal" text-anchor="middle" fill="#222" >0</text>
<line x1="113.88" y1="482.40" x2="113.88" y2="484.40" stroke="#555555" stroke-width="0.8" />
<text x="113.88" y="488.60" font-size="5.2" font-weight="normal" text-anchor="middle" fill="#222" >2000</text>
<line x1="159.25" y1="482.40" x2="159.25" y2="484.40" stroke="#555555" stroke-width="0.8" />
<text x="159.25" y="488.60" font-size="5.2" font-weight="normal" text-anchor="middle" fill="#222" >4000</text>
<line x1="204.62" y1="482.40" x2="204.62" y2="484.40" stroke="#555555" stroke-width="0.8" />
<text x="204.62" y="488.60" font-size="5.2" font-weight="normal" text-anchor="middle" fill="#222" >6000</text>
<line x1="250.00" y1="482.40" x2="250.00" y2="484.40" stroke="#555555" stroke-width="0.8" />
<text x="250.00" y="488.60" font-size="5.2" font-weight="normal" text-anchor="middle" fill="#222" >8000</text>
<text x="162.00" y="495.80" font-size="7.0" font-weight="normal" text-anchor="middle" fill="#000" >Time (days)</text>
<text x="300.00" y="305.50" font-size="11.5" font-weight="normal" text-anchor="start" fill="#000" >F</text>
<text x="434.00" y="314.90" font-size="8.65" font-weight="bold" text-anchor="middle" fill="#000" >Overall survival in GSE31210</text>
<line x1="397.00" y1="323.00" x2="403.00" y2="323.00" stroke="#F8766D" stroke-width="1.3" />
<line x1="400.00" y1="321.80" x2="400.00" y2="324.20" stroke="#F8766D" stroke-width="0.8" />
<text x="405.00" y="324.70" font-size="4.45" font-weight="normal" text-anchor="start" fill="#000" >High COA6</text>
<line x1="446.60" y1="323.00" x2="452.60" y2="323.00" stroke="#00BFC4" stroke-width="1.3" />
<line x1="449.60" y1="321.80" x2="449.60" y2="324.20" stroke="#00BFC4" stroke-width="0.8" />
<text x="454.20" y="324.70" font-size="4.45" font-weight="normal" text-anchor="start" fill="#000" >Low COA6</text>
<line x1="341.50" y1="327.00" x2="341.50" y2="434.60" stroke="#555555" stroke-width="0.9" />
<line x1="341.05" y1="434.00" x2="540.60" y2="434.00" stroke="#555555" stroke-width="0.9" />
<line x1="339.50" y1="429.40" x2="341.50" y2="429.40" stroke="#555555" stroke-width="0.8" />
<text x="0" y="0" transform="translate(338.50,431.70) scale(1.0,1.15)" font-size="5.1" font-weight="normal" text-anchor="end" fill="#222" >0.00</text>
<line x1="339.50" y1="404.95" x2="341.50" y2="404.95" stroke="#555555" stroke-width="0.8" />
<text x="0" y="0" transform="translate(338.50,407.25) scale(1.0,1.15)" font-size="5.1" font-weight="normal" text-anchor="end" fill="#222" >0.25</text>
<line x1="339.50" y1="380.50" x2="341.50" y2="380.50" stroke="#555555" stroke-width="0.8" />
<text x="0" y="0" transform="translate(338.50,382.80) scale(1.0,1.15)" font-size="5.1" font-weight="normal" text-anchor="end" fill="#222" >0.50</text>
<line x1="339.50" y1="356.05" x2="341.50" y2="356.05" stroke="#555555" stroke-width="0.8" />
<text x="0" y="0" transform="translate(338.50,358.35) scale(1.0,1.15)" font-size="5.1" font-weight="normal" text-anchor="end" fill="#222" >0.75</text>
<line x1="339.50" y1="331.60" x2="341.50" y2="331.60" stroke="#555555" stroke-width="0.8" />
<text x="0" y="0" transform="translate(338.50,333.90) scale(1.0,1.15)" font-size="5.1" font-weight="normal" text-anchor="end" fill="#222" >1.00</text>
<line x1="350.60" y1="434.00" x2="350.60" y2="436.00" stroke="#555555" stroke-width="0.8" />
<text x="350.60" y="440.20" font-size="5.2" font-weight="normal" text-anchor="middle" fill="#222" >0</text>
<line x1="395.80" y1="434.00" x2="395.80" y2="436.00" stroke="#555555" stroke-width="0.8" />
<text x="395.80" y="440.20" font-size="5.2" font-weight="normal" text-anchor="middle" fill="#222" >1000</text>
<line x1="441.00" y1="434.00" x2="441.00" y2="436.00" stroke="#555555" stroke-width="0.8" />
<text x="441.00" y="440.20" font-size="5.2" font-weight="normal" text-anchor="middle" fill="#222" >2000</text>
<line x1="486.20" y1="434.00" x2="486.20" y2="436.00" stroke="#555555" stroke-width="0.8" />
<text x="486.20" y="440.20" font-size="5.2" font-weight="normal" text-anchor="middle" fill="#222" >3000</text>
<line x1="531.40" y1="434.00" x2="531.40" y2="436.00" stroke="#555555" stroke-width="0.8" />
<text x="531.40" y="440.20" font-size="5.2" font-weight="normal" text-anchor="middle" fill="#222" >4000</text>
<text x="445.20" y="447.40" font-size="7.0" font-weight="normal" text-anchor="middle" fill="#000" >Time (days)</text>
<text x="0" y="0" font-size="6.3" text-anchor="middle" fill="#000" transform="translate(322.10,380.70) rotate(-90)">Survival probability</text>
<polyline points="350.50,331.50 360.30,332.60 366.80,335.40 377.70,340.30 388.60,345.20 400.00,347.90 410.90,354.50 421.80,361.00 432.70,365.40 450.20,365.90 452.40,368.60 453.50,373.30 504.50,373.60" fill="none" stroke="#F8766D" stroke-width="1.0" stroke-linejoin="miter" stroke-dasharray="2,1.9"/>
<polyline points="350.50,331.50 364.60,332.50 377.70,334.50 390.00,336.00 400.00,337.00 410.90,340.80 421.80,343.50 432.70,346.80 438.20,347.60 504.50,347.80" fill="none" stroke="#F8766D" stroke-width="1.0" stroke-linejoin="miter" stroke-dasharray="2,1.9"/>
<polyline points="363.00,331.80 524.50,331.80" fill="none" stroke="#00BFC4" stroke-width="1.0" stroke-linejoin="miter" stroke-dasharray="2,1.9"/>
<polyline points="364.60,335.90 377.70,337.00 388.60,338.10 400.00,338.60 409.80,338.60 410.90,340.80 470.00,340.80 470.90,356.40 525.50,356.40" fill="none" stroke="#00BFC4" stroke-width="1.0" stroke-linejoin="miter" stroke-dasharray="2,1.9"/>
<polyline points="350.50,331.50 360.30,331.50 364.60,332.60 370.10,334.30 374.50,334.80 378.80,337.00 383.20,338.60 388.60,339.70 393.00,340.80 397.40,342.50 401.70,344.10 405.50,344.40 410.90,346.80 416.40,351.20 427.30,354.50 433.80,357.20 448.00,357.20 452.40,357.20 453.50,361.50 504.50,361.50" fill="none" stroke="#F8766D" stroke-width="1.9" stroke-linejoin="miter" />
<polyline points="350.50,331.50 363.50,331.50 365.20,333.20 377.70,333.50 388.60,334.30 397.40,334.80 405.00,335.40 409.80,335.40 410.90,336.50 470.00,336.50 470.90,343.60 525.50,343.60" fill="none" stroke="#00BFC4" stroke-width="1.9" stroke-linejoin="miter" />
<line x1="382.00" y1="335.20" x2="382.00" y2="337.80" stroke="#00BFC4" stroke-width="0.7" />
<line x1="390.00" y1="335.20" x2="390.00" y2="337.80" stroke="#00BFC4" stroke-width="0.7" />
<line x1="398.00" y1="335.20" x2="398.00" y2="337.80" stroke="#00BFC4" stroke-width="0.7" />
<line x1="405.00" y1="335.20" x2="405.00" y2="337.80" stroke="#00BFC4" stroke-width="0.7" />
<line x1="413.00" y1="335.20" x2="413.00" y2="337.80" stroke="#00BFC4" stroke-width="0.7" />
<line x1="417.50" y1="335.20" x2="417.50" y2="337.80" stroke="#00BFC4" stroke-width="0.7" />
<line x1="421.80" y1="335.20" x2="421.80" y2="337.80" stroke="#00BFC4" stroke-width="0.7" />
<line x1="426.20" y1="335.20" x2="426.20" y2="337.80" stroke="#00BFC4" stroke-width="0.7" />
<line x1="431.60" y1="335.20" x2="431.60" y2="337.80" stroke="#00BFC4" stroke-width="0.7" />
<line x1="436.00" y1="335.20" x2="436.00" y2="337.80" stroke="#00BFC4" stroke-width="0.7" />
<line x1="441.00" y1="335.20" x2="441.00" y2="337.80" stroke="#00BFC4" stroke-width="0.7" />
<line x1="443.60" y1="335.20" x2="443.60" y2="337.80" stroke="#00BFC4" stroke-width="0.7" />
<line x1="446.40" y1="335.20" x2="446.40" y2="337.80" stroke="#00BFC4" stroke-width="0.7" />
<line x1="448.20" y1="335.20" x2="448.20" y2="337.80" stroke="#00BFC4" stroke-width="0.7" />
<line x1="451.00" y1="335.20" x2="451.00" y2="337.80" stroke="#00BFC4" stroke-width="0.7" />
<line x1="455.00" y1="335.20" x2="455.00" y2="337.80" stroke="#00BFC4" stroke-width="0.7" />
<line x1="458.20" y1="335.20" x2="458.20" y2="337.80" stroke="#00BFC4" stroke-width="0.7" />
<line x1="461.00" y1="335.20" x2="461.00" y2="337.80" stroke="#00BFC4" stroke-width="0.7" />
<line x1="465.50" y1="335.20" x2="465.50" y2="337.80" stroke="#00BFC4" stroke-width="0.7" />
<line x1="467.30" y1="335.20" x2="467.30" y2="337.80" stroke="#00BFC4" stroke-width="0.7" />
<line x1="472.70" y1="342.30" x2="472.70" y2="344.90" stroke="#00BFC4" stroke-width="0.7" />
<line x1="476.40" y1="342.30" x2="476.40" y2="344.90" stroke="#00BFC4" stroke-width="0.7" />
<line x1="485.50" y1="342.30" x2="485.50" y2="344.90" stroke="#00BFC4" stroke-width="0.7" />
<line x1="488.20" y1="342.30" x2="488.20" y2="344.90" stroke="#00BFC4" stroke-width="0.7" />
<line x1="494.50" y1="342.30" x2="494.50" y2="344.90" stroke="#00BFC4" stroke-width="0.7" />
<line x1="497.30" y1="342.30" x2="497.30" y2="344.90" stroke="#00BFC4" stroke-width="0.7" />
<line x1="500.00" y1="342.30" x2="500.00" y2="344.90" stroke="#00BFC4" stroke-width="0.7" />
<line x1="502.70" y1="342.30" x2="502.70" y2="344.90" stroke="#00BFC4" stroke-width="0.7" />
<line x1="507.30" y1="342.30" x2="507.30" y2="344.90" stroke="#00BFC4" stroke-width="0.7" />
<line x1="525.50" y1="342.30" x2="525.50" y2="344.90" stroke="#00BFC4" stroke-width="0.7" />
<line x1="457.30" y1="360.20" x2="457.30" y2="362.80" stroke="#F8766D" stroke-width="0.7" />
<line x1="463.60" y1="360.20" x2="463.60" y2="362.80" stroke="#F8766D" stroke-width="0.7" />
<line x1="467.30" y1="360.20" x2="467.30" y2="362.80" stroke="#F8766D" stroke-width="0.7" />
<line x1="470.00" y1="360.20" x2="470.00" y2="362.80" stroke="#F8766D" stroke-width="0.7" />
<line x1="476.40" y1="360.20" x2="476.40" y2="362.80" stroke="#F8766D" stroke-width="0.7" />
<line x1="482.70" y1="360.20" x2="482.70" y2="362.80" stroke="#F8766D" stroke-width="0.7" />
<line x1="489.00" y1="360.20" x2="489.00" y2="362.80" stroke="#F8766D" stroke-width="0.7" />
<line x1="503.60" y1="360.20" x2="503.60" y2="362.80" stroke="#F8766D" stroke-width="0.7" />
<line x1="440.00" y1="355.90" x2="440.00" y2="358.50" stroke="#F8766D" stroke-width="0.7" />
<line x1="445.00" y1="355.90" x2="445.00" y2="358.50" stroke="#F8766D" stroke-width="0.7" />
<text x="354.00" y="412.20" font-size="6.3" font-weight="normal" text-anchor="start" fill="#000" >p = 0.00034</text>
<text x="354.00" y="422.50" font-size="6.35" font-weight="normal" text-anchor="start" fill="#000" >HR(Low)=0.2251(0.1099-0.4609)</text>
<text x="341.80" y="459.20" font-size="7.15" font-weight="normal" text-anchor="start" fill="#000" >Number at risk</text>
<line x1="341.50" y1="462.00" x2="341.50" y2="482.40" stroke="#555555" stroke-width="0.9" />
<line x1="341.05" y1="482.40" x2="540.60" y2="482.40" stroke="#555555" stroke-width="0.9" />
<line x1="339.50" y1="468.80" x2="341.50" y2="468.80" stroke="#555555" stroke-width="0.8" />
<text x="338.90" y="470.60" font-size="5.1" font-weight="normal" text-anchor="end" fill="#F8766D" >High COA6</text>
<text x="0" y="0" transform="translate(350.60,471.00) scale(1.0,1.15)" font-size="5.9" font-weight="normal" text-anchor="middle" fill="#000" >102</text>
<text x="0" y="0" transform="translate(395.80,471.00) scale(1.0,1.15)" font-size="5.9" font-weight="normal" text-anchor="middle" fill="#000" >87</text>
<text x="0" y="0" transform="translate(441.00,471.00) scale(1.0,1.15)" font-size="5.9" font-weight="normal" text-anchor="middle" fill="#000" >23</text>
<text x="0" y="0" transform="translate(486.20,471.00) scale(1.0,1.15)" font-size="5.9" font-weight="normal" text-anchor="middle" fill="#000" >3</text>
<text x="0" y="0" transform="translate(531.40,471.00) scale(1.0,1.15)" font-size="5.9" font-weight="normal" text-anchor="middle" fill="#000" >0</text>
<line x1="339.50" y1="477.30" x2="341.50" y2="477.30" stroke="#555555" stroke-width="0.8" />
<text x="338.90" y="479.10" font-size="5.1" font-weight="normal" text-anchor="end" fill="#00BFC4" >Low COA6</text>
<text x="0" y="0" transform="translate(350.60,479.50) scale(1.0,1.15)" font-size="5.9" font-weight="normal" text-anchor="middle" fill="#000" >102</text>
<text x="0" y="0" transform="translate(395.80,479.50) scale(1.0,1.15)" font-size="5.9" font-weight="normal" text-anchor="middle" fill="#000" >91</text>
<text x="0" y="0" transform="translate(441.00,479.50) scale(1.0,1.15)" font-size="5.9" font-weight="normal" text-anchor="middle" fill="#000" >36</text>
<text x="0" y="0" transform="translate(486.20,479.50) scale(1.0,1.15)" font-size="5.9" font-weight="normal" text-anchor="middle" fill="#000" >8</text>
<text x="0" y="0" transform="translate(531.40,479.50) scale(1.0,1.15)" font-size="5.9" font-weight="normal" text-anchor="middle" fill="#000" >0</text>
<line x1="350.60" y1="482.40" x2="350.60" y2="484.40" stroke="#555555" stroke-width="0.8" />
<text x="350.60" y="488.60" font-size="5.2" font-weight="normal" text-anchor="middle" fill="#222" >0</text>
<line x1="395.80" y1="482.40" x2="395.80" y2="484.40" stroke="#555555" stroke-width="0.8" />
<text x="395.80" y="488.60" font-size="5.2" font-weight="normal" text-anchor="middle" fill="#222" >1000</text>
<line x1="441.00" y1="482.40" x2="441.00" y2="484.40" stroke="#555555" stroke-width="0.8" />
<text x="441.00" y="488.60" font-size="5.2" font-weight="normal" text-anchor="middle" fill="#222" >2000</text>
<line x1="486.20" y1="482.40" x2="486.20" y2="484.40" stroke="#555555" stroke-width="0.8" />
<text x="486.20" y="488.60" font-size="5.2" font-weight="normal" text-anchor="middle" fill="#222" >3000</text>
<line x1="531.40" y1="482.40" x2="531.40" y2="484.40" stroke="#555555" stroke-width="0.8" />
<text x="531.40" y="488.60" font-size="5.2" font-weight="normal" text-anchor="middle" fill="#222" >4000</text>
<text x="445.20" y="495.80" font-size="7.0" font-weight="normal" text-anchor="middle" fill="#000" >Time (days)</text>
</svg></body></html>
